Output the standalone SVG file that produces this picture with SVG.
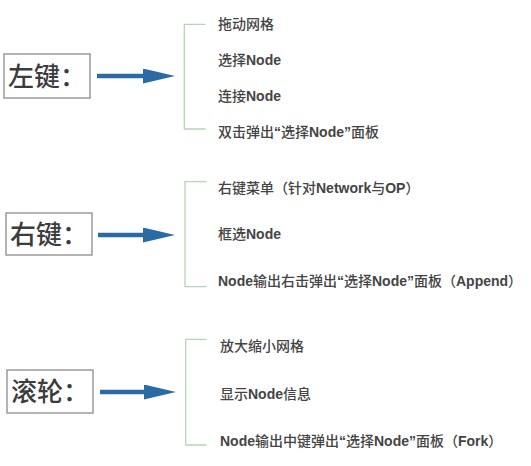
<svg xmlns="http://www.w3.org/2000/svg" width="531" height="466" viewBox="0 0 531 466">
  <style>
    .box { fill: #ffffff; stroke: #9a9a9a; stroke-width: 1.5; }
    .key { font-family: "Noto Sans CJK SC", "Noto Sans", sans-serif; font-size: 26px; fill: #3c3c3c; font-weight: 500; }
    .item { font-family: "Liberation Sans", "Noto Sans CJK SC", sans-serif; font-size: 14px; fill: #444444; font-weight: 500; }
    .b { font-weight: 700; }
    .arrow { stroke: #2b6ba5; stroke-width: 4.5; fill: none; }
    .bracket { stroke: #b7d4b5; stroke-width: 1.3; fill: none; }
  </style>
  <defs>
    <marker id="head" markerUnits="userSpaceOnUse" markerWidth="33" markerHeight="16" refX="0" refY="7.5" orient="auto">
      <path d="M0,0 L32,7.5 L0,15 Z" fill="#2b6ba5"/>
    </marker>
  </defs>
  <rect width="531" height="466" fill="#ffffff"/>

  <g id="node-left">
    <rect class="box" x="4" y="54" width="86" height="44"/>
    <text class="key" x="8" y="86">左键：</text>
  </g>
  <g id="node-right">
    <rect class="box" x="6" y="213" width="86" height="42"/>
    <text class="key" x="10" y="244">右键：</text>
  </g>
  <g id="node-wheel">
    <rect class="box" x="7" y="370" width="86" height="43"/>
    <text class="key" x="11" y="401">滚轮：</text>
  </g>

  <g id="items-left">
    <text class="item" x="218" y="29">拖动网格</text>
    <text class="item" x="218" y="65">选择<tspan class="b">Node</tspan></text>
    <text class="item" x="218" y="101">连接<tspan class="b">Node</tspan></text>
    <text class="item" x="218" y="137">双击弹出<tspan class="b">“</tspan>选择<tspan class="b">Node”</tspan>面板</text>
  </g>
  <g id="items-right">
    <text class="item" x="218" y="193">右键菜单（针对<tspan class="b">Network</tspan>与<tspan class="b">OP</tspan>）</text>
    <text class="item" x="218" y="238.5">框选<tspan class="b">Node</tspan></text>
    <text class="item" x="218" y="285.5"><tspan class="b">Node</tspan>输出右击弹出<tspan class="b">“</tspan>选择<tspan class="b">Node”</tspan>面板（<tspan class="b">Append</tspan>）</text>
  </g>
  <g id="items-wheel">
    <text class="item" x="220" y="351">放大缩小网格</text>
    <text class="item" x="220" y="399">显示<tspan class="b">Node</tspan>信息</text>
    <text class="item" x="220" y="446"><tspan class="b">Node</tspan>输出中键弹出<tspan class="b">“</tspan>选择<tspan class="b">Node”</tspan>面板（<tspan class="b">Fork</tspan>）</text>
  </g>

  <g id="connectors">
    <line class="arrow" x1="97" y1="76" x2="143" y2="76" marker-end="url(#head)"/>
    <line class="arrow" x1="98" y1="235" x2="143" y2="235" marker-end="url(#head)"/>
    <line class="arrow" x1="100" y1="392" x2="144" y2="392" marker-end="url(#head)"/>
    <path class="bracket" d="M205.5,24.3 H184.3 V129 H205.5"/>
    <path class="bracket" d="M206.5,181.7 H185 V286.7 H206.5"/>
    <path class="bracket" d="M206.5,339.3 H185.7 V445 H206.5"/>
  </g>
</svg>
